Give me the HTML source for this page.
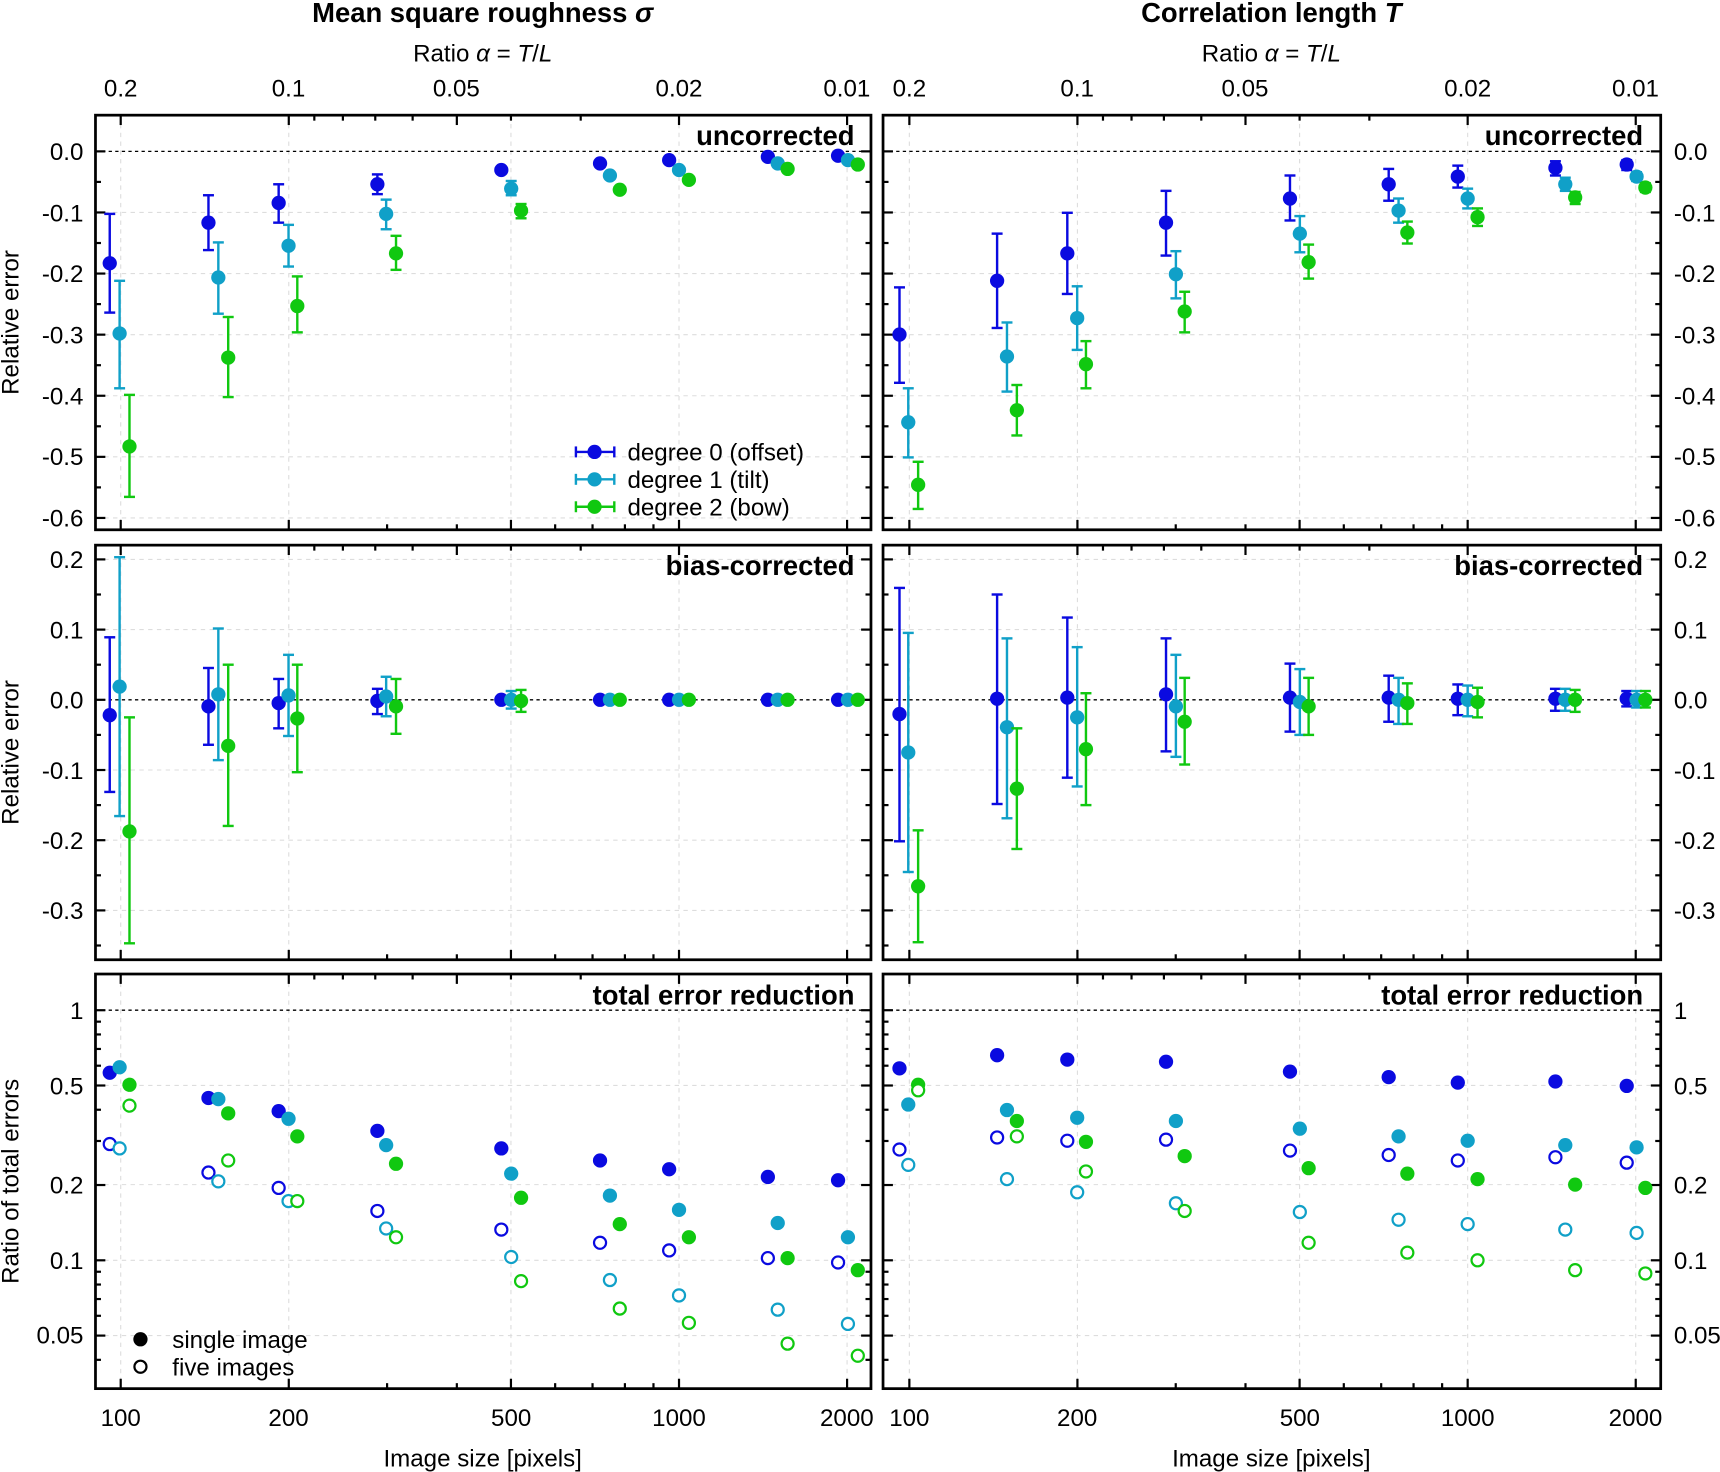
<!DOCTYPE html>
<html><head><meta charset="utf-8"><style>
html,body{margin:0;padding:0;background:#fff}
svg{display:block}
text{font-family:"Liberation Sans",sans-serif;fill:#000}
.t{font-size:22px}
.b{font-size:25px;font-weight:bold}
</style></head><body>
<svg id="s" xmlns="http://www.w3.org/2000/svg" width="1720" height="1472" viewBox="0 0 1568 1342">
<g id="grid"></g>
<g id="ax"></g>
<g id="pts"></g>
<g class="t">
<text x="440" y="20" class="b" text-anchor="middle">Mean square roughness <tspan font-style="italic">σ</tspan></text>
<text x="1159" y="20" class="b" text-anchor="middle">Correlation length <tspan font-style="italic">T</tspan></text>
<text x="440" y="56" text-anchor="middle" class="t">Ratio <tspan font-style="italic">α</tspan> = <tspan font-style="italic">T</tspan>/<tspan font-style="italic">L</tspan></text>
<text x="1159" y="56" text-anchor="middle" class="t">Ratio <tspan font-style="italic">α</tspan> = <tspan font-style="italic">T</tspan>/<tspan font-style="italic">L</tspan></text>
<g class="t" text-anchor="middle">
<text x="110" y="88">0.2</text><text x="263" y="88">0.1</text><text x="416" y="88">0.05</text><text x="619" y="88">0.02</text><text x="772" y="88">0.01</text>
<text x="829" y="88">0.2</text><text x="982" y="88">0.1</text><text x="1135" y="88">0.05</text><text x="1338" y="88">0.02</text><text x="1491" y="88">0.01</text>
<text x="110" y="1300">100</text><text x="263" y="1300">200</text><text x="466" y="1300">500</text><text x="619" y="1300">1000</text><text x="772" y="1300">2000</text>
<text x="829" y="1300">100</text><text x="982" y="1300">200</text><text x="1185" y="1300">500</text><text x="1338" y="1300">1000</text><text x="1491" y="1300">2000</text>
<text x="440" y="1337">Image size [pixels]</text><text x="1159" y="1337">Image size [pixels]</text>
</g>
<g class="t" text-anchor="end">
<text x="76" y="146">0.0</text><text x="76" y="202">-0.1</text><text x="76" y="257">-0.2</text><text x="76" y="313">-0.3</text><text x="76" y="369">-0.4</text><text x="76" y="424">-0.5</text><text x="76" y="480">-0.6</text>
<text x="76" y="518">0.2</text><text x="76" y="582">0.1</text><text x="76" y="646">0.0</text><text x="76" y="710">-0.1</text><text x="76" y="774">-0.2</text><text x="76" y="838">-0.3</text>
<text x="76" y="929">1</text><text x="76" y="998">0.5</text><text x="76" y="1088">0.2</text><text x="76" y="1157">0.1</text><text x="76" y="1225">0.05</text>
</g>
<g class="t" text-anchor="start">
<text x="1526" y="146">0.0</text><text x="1526" y="202">-0.1</text><text x="1526" y="257">-0.2</text><text x="1526" y="313">-0.3</text><text x="1526" y="369">-0.4</text><text x="1526" y="424">-0.5</text><text x="1526" y="480">-0.6</text>
<text x="1526" y="518">0.2</text><text x="1526" y="582">0.1</text><text x="1526" y="646">0.0</text><text x="1526" y="710">-0.1</text><text x="1526" y="774">-0.2</text><text x="1526" y="838">-0.3</text>
<text x="1526" y="929">1</text><text x="1526" y="998">0.5</text><text x="1526" y="1088">0.2</text><text x="1526" y="1157">0.1</text><text x="1526" y="1225">0.05</text>
</g>
<text transform="translate(17,294) rotate(-90)" text-anchor="middle">Relative error</text>
<text transform="translate(17,686) rotate(-90)" text-anchor="middle">Relative error</text>
<text transform="translate(17,1077) rotate(-90)" text-anchor="middle">Ratio of total errors</text>
<g class="b" text-anchor="end">
<text x="779" y="132">uncorrected</text><text x="1498" y="132">uncorrected</text>
<text x="779" y="524">bias-corrected</text><text x="1498" y="524">bias-corrected</text>
<text x="779" y="916">total error reduction</text><text x="1498" y="916">total error reduction</text>
</g>
<text x="572" y="420">degree 0 (offset)</text>
<text x="572" y="445">degree 1 (tilt)</text>
<text x="572" y="470">degree 2 (bow)</text>
<text x="157" y="1229">single image</text>
<text x="157" y="1254">five images</text>
</g>
</svg>
<script>
const NS="http://www.w3.org/2000/svg";
function el(p,t,a){const e=document.createElementNS(NS,t);for(const k in a)e.setAttribute(k,a[k]);document.getElementById(p).appendChild(e);return e;}
const C=["#0a0ae0","#10a0c8","#10c810"];
const panels=[[87,794],[805,1514]];
const rows=[[105,483],[497,875],[888,1266]];
const sc=509;
function X(p,s){return (p==0?110:829)+Math.log10(s/100)*sc;}
panels.forEach((P,pi)=>{
 rows.forEach((R,ri)=>{
  [100,200,500,1000,2000].forEach(s=>{const x=X(pi,s);el("grid","line",{x1:x,x2:x,y1:R[0],y2:R[1],stroke:"#ddd","stroke-dasharray":"4,4","stroke-width":1});});
  let ys=[];
  if(ri==0) for(let v=1;v<=6;v++) ys.push(138+v*55.7);
  if(ri==1) [510,574,702,766,830].forEach(y=>ys.push(y));
  if(ri==2) [989.6,1080,1149,1217.6].forEach(y=>ys.push(y));
  ys.forEach(y=>el("grid","line",{x1:P[0],x2:P[1],y1:y,y2:y,stroke:"#ddd","stroke-dasharray":"4,4"}));
  const zy=[138,638,921][ri];
  el("grid","line",{x1:P[0],x2:P[1],y1:zy,y2:zy,stroke:"#000","stroke-dasharray":"3,3","stroke-width":1.2});
  el("ax","rect",{x:P[0],y:R[0],width:P[1]-P[0],height:R[1]-R[0],fill:"none",stroke:"#000","stroke-width":2.5});
  [100,200,300,400,500,600,700,800,900,1000,2000].forEach(s=>{const maj=[100,200,500,1000,2000].includes(s);const x=X(pi,s);const L=maj?9:5;
   el("ax","line",{x1:x,x2:x,y1:R[1],y2:R[1]-L,stroke:"#000","stroke-width":2});});
  [0.2,0.1,0.09,0.08,0.07,0.06,0.05,0.04,0.03,0.02,0.01].forEach(a=>{const maj=[0.2,0.1,0.05,0.02,0.01].includes(a);const x=X(pi,20/a);const L=maj?9:5;
   el("ax","line",{x1:x,x2:x,y1:R[0],y2:R[0]+L,stroke:"#000","stroke-width":2});});
  let yt=[];
  if(ri==0) for(let v=0;v<=12;v++) yt.push([138+v*27.85,v%2==0]);
  if(ri==1) for(let v=-4;v<=7;v++) yt.push([638+v*32,v%2==0]);
  if(ri==2){[1,0.5,0.2,0.1,0.05].forEach(v=>yt.push([921-Math.log10(v)*228,true]));[0.9,0.8,0.7,0.6,0.4,0.3,0.09,0.08,0.07,0.06,0.04].forEach(v=>yt.push([921-Math.log10(v)*228,false]));}
  yt.forEach(([y,m])=>{if(y<R[0]||y>R[1])return;const L=m?9:5;
   el("ax","line",{x1:P[0],x2:P[0]+L,y1:y,y2:y,stroke:"#000","stroke-width":2});
   el("ax","line",{x1:P[1],x2:P[1]-L,y1:y,y2:y,stroke:"#000","stroke-width":2});});
 });
});
const XL=[[100,109,118],[190,199,208],[254,263,271],[344,352,361],[457,466,475],[547,556,565],[610,619,628],[700,709,718],[764,773,782]];
const XR=[[820,828,837],[909,918,927],[973,982,990],[1063,1072,1080],[1176,1185,1193],[1266,1275,1283],[1329,1338,1347],[1418,1427,1436],[1483,1492,1500]];
function eb(x,y,lo,hi,c){if(lo!=null){el("pts","line",{x1:x,x2:x,y1:lo,y2:hi,stroke:c,"stroke-width":2.2});
 [lo,hi].forEach(v=>el("pts","line",{x1:x-5,x2:x+5,y1:v,y2:v,stroke:c,"stroke-width":2.2}));}
 el("pts","circle",{cx:x,cy:y,r:6.5,fill:c});}
function grp(XS,data){data.forEach((g,gi)=>g.forEach((d,k)=>eb(XS[gi][k],d[0],d[1],d[2],C[k])));}
grp(XL,[
[[240,195,285],[304,256,354],[407,360,453]],
[[203,178,228],[253,221,286],[326,289,362]],
[[185,168,203],[224,205,243],[279,252,303]],
[[168,159,177],[195,182,209],[231,215,246]],
[[155],[172,165,178],[192,186,199]],
[[149],[160],[173]],[[146],[155],[164]],[[143],[149],[154]],[[142],[146],[150]]]);
grp(XR,[
[[305,262,349],[385,354,417],[442,421,464]],
[[256,213,299],[325,294,357],[374,351,397]],
[[231,194,268],[290,261,319],[332,311,354]],
[[203,174,233],[250,229,272],[284,266,303]],
[[181,160,201],[213,197,230],[239,223,254]],
[[168,154,183],[192,181,203],[212,202,222]],
[[161,151,171],[181,172,190],[198,190,206]],
[[153,147,160],[168,162,174],[180,175,186]],
[[150,146,155],[161,157,165],[171,167,175]]]);
grp(XL,[
[[652,581,722],[626,508,744],[758,654,860]],
[[644,609,679],[633,573,693],[680,606,753]],
[[641,619,664],[634,597,671],[655,606,704]],
[[639,628,651],[635,617,653],[644,619,669]],
[[638],[638,630,646],[639,629,649]],
[[638],[638],[638]],[[638],[638],[638]],[[638],[638],[638]],[[638],[638],[638]]]);
grp(XR,[
[[651,536,767],[686,577,795],[808,757,859]],
[[637,542,733],[663,582,746],[719,664,774]],
[[636,563,709],[654,590,717],[683,632,734]],
[[633,582,685],[644,597,690],[658,618,697]],
[[636,605,667],[640,610,670],[644,618,670]],
[[636,616,658],[638,618,660],[641,623,660]],
[[637,624,652],[638,625,653],[640,627,654]],
[[637,628,648],[638,628,648],[638,629,649]],
[[637,630,644],[638,630,645],[638,630,645]]]);
function sc2(XS,f,o){[0,1,2].forEach(k=>{f[k].forEach((y,i)=>el("pts","circle",{cx:XS[i][k],cy:y,r:6.5,fill:C[k]}));
 o[k].forEach((y,i)=>el("pts","circle",{cx:XS[i][k],cy:y,r:5.5,fill:"#fff",stroke:C[k],"stroke-width":2}));});}
sc2(XL,[[978,1001,1013,1031,1047,1058,1066,1073,1076],[973,1002,1020,1044,1070,1090,1103,1115,1128],[989,1015,1036,1061,1092,1116,1128,1147,1158]],
[[1043,1069,1083,1104,1121,1133,1140,1147,1151],[1047,1077,1095,1120,1146,1167,1181,1194,1207],[1008,1058,1095,1128,1168,1193,1206,1225,1236]]);
sc2(XR,[[974,962,966,968,977,982,987,986,990],[1007,1012,1019,1022,1029,1036,1040,1044,1046],[989,1022,1041,1054,1065,1070,1075,1080,1083]],
[[1048,1037,1040,1039,1049,1053,1058,1055,1060],[1062,1075,1087,1097,1105,1112,1116,1121,1124],[994,1036,1068,1104,1133,1142,1149,1158,1161]]);
[412,437,462].forEach((y,k)=>{el("pts","line",{x1:525,x2:560,y1:y,y2:y,stroke:C[k],"stroke-width":2.2});
 [525,560].forEach(x=>el("pts","line",{x1:x,x2:x,y1:y-5,y2:y+5,stroke:C[k],"stroke-width":2.2}));
 el("pts","circle",{cx:542,cy:y,r:6.5,fill:C[k]});});
el("pts","circle",{cx:128,cy:1221,r:6.5,fill:"#000"});
el("pts","circle",{cx:128,cy:1246,r:5.5,fill:"#fff",stroke:"#000","stroke-width":2});
</script>
</body></html>
